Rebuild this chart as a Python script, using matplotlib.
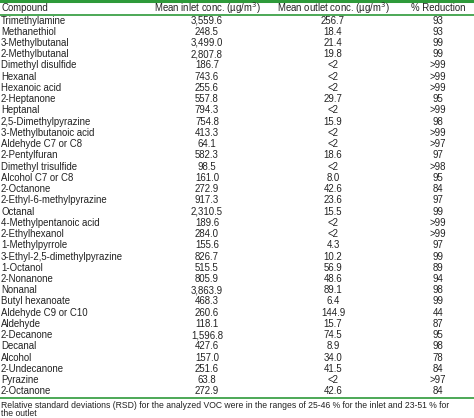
import matplotlib
matplotlib.use("Agg")
import matplotlib.pyplot as plt

compounds = ["Trimethylamine", "Methanethiol", "3-Methylbutanal", "2-Methylbutanal",
             "Dimethyl disulfide", "Hexanal", "Hexanoic acid", "2-Heptanone", "Heptanal",
             "2,5-Dimethylpyrazine", "3-Methylbutanoic acid", "Aldehyde C7 or C8",
             "2-Pentylfuran", "Dimethyl trisulfide", "Alcohol C7 or C8", "2-Octanone",
             "2-Ethyl-6-methylpyrazine", "Octanal", "4-Methylpentanoic acid", "2-Ethylhexanol",
             "1-Methylpyrrole", "3-Ethyl-2,5-dimethylpyrazine", "1-Octanol", "2-Nonanone",
             "Nonanal", "Butyl hexanoate", "Aldehyde C9 or C10", "Aldehyde", "2-Decanone",
             "Decanal", "Alcohol", "2-Undecanone", "Pyrazine", "2-Octanone"]
inlet = ["3,559.6", "248.5", "3,499.0", "2,807.8", "186.7", "743.6", "255.6", "557.8",
         "794.3", "754.8", "413.3", "64.1", "582.3", "98.5", "161.0", "272.9", "917.3",
         "2,310.5", "189.6", "284.0", "155.6", "826.7", "515.5", "805.9", "3,863.9",
         "468.3", "260.6", "118.1", "1,596.8", "427.6", "157.0", "251.6", "63.8", "272.9"]
outlet = ["256.7", "18.4", "21.4", "19.8", "<2", "<2", "<2", "29.7", "<2", "15.9", "<2",
          "<2", "18.6", "<2", "8.0", "42.6", "23.6", "15.5", "<2", "<2", "4.3", "10.2",
          "56.9", "48.6", "89.1", "6.4", "144.9", "15.7", "74.5", "8.9", "34.0", "41.5",
          "<2", "42.6"]
reduction = ["93", "93", "99", "99", ">99", ">99", ">99", "95", ">99", "98", ">99", ">97",
             "97", ">98", "95", "84", "97", "99", ">99", ">99", "97", "99", "89", "94", "98",
             "99", "44", "87", "95", "98", "78", "84", ">97", "84"]
headers = ["Compound", "Mean inlet conc. (\u00b5g/m$^3$)", "Mean outlet conc. (\u00b5g/m$^3$)",
           "% Reduction"]
footnote = ["Relative standard deviations (RSD) for the analyzed VOC were in the ranges of 25-46 % for the inlet and 23-51 % for",
            "the outlet"]

plt.rcParams["font.family"] = ["Liberation Sans", "DejaVu Sans"]
fig = plt.figure(figsize=(4.74, 4.18), dpi=100)
ax = fig.add_axes([0, 0, 1, 1])
ax.set_xlim(0, 474); ax.set_ylim(418, 0); ax.axis("off")

FS = 6.9
GREEN = "#2e9a3a"
TXT = "#222"
ax.axhline(1.0, color=GREEN, lw=2.2)
ax.axhline(14.5, color=GREEN, lw=1.2)
ax.axhline(398, color=GREEN, lw=1.2)

ax.text(1, 8, headers[0], fontsize=FS, va="center", ha="left", color=TXT)
ax.text(207, 8, headers[1], fontsize=FS, va="center", ha="center", color=TXT)
ax.text(333, 8, headers[2], fontsize=FS, va="center", ha="center", color=TXT)
ax.text(438, 8, headers[3], fontsize=FS, va="center", ha="center", color=TXT)

y0, dy = 20.5, 11.24
for i, (c, a, b, r) in enumerate(zip(compounds, inlet, outlet, reduction)):
    y = y0 + i * dy
    ax.text(1, y, c, fontsize=FS, va="center", ha="left", color=TXT)
    ax.text(207, y, a, fontsize=FS, va="center", ha="center", color=TXT)
    ax.text(333, y, b, fontsize=FS, va="center", ha="center", color=TXT)
    ax.text(438, y, r, fontsize=FS, va="center", ha="center", color=TXT)

ax.text(1, 406, footnote[0], fontsize=6.2, va="center", ha="left", color=TXT)
ax.text(1, 414, footnote[1], fontsize=6.2, va="center", ha="left", color=TXT)

fig.savefig("out.png", dpi=100)
